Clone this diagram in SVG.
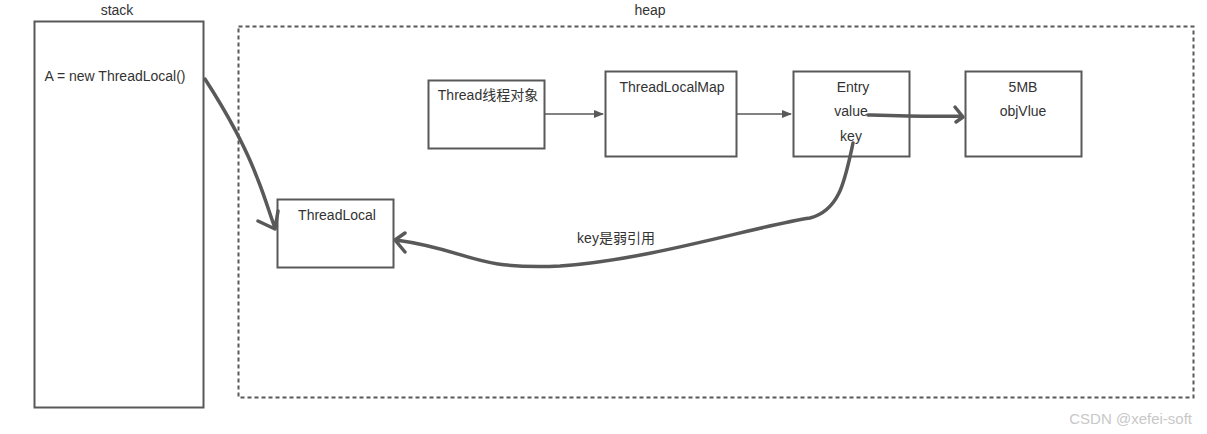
<svg xmlns="http://www.w3.org/2000/svg" width="1207" height="434" viewBox="0 0 1207 434">
<defs>
<style>
.box{fill:#fff;stroke:#595959;stroke-width:2}
.t{font-family:"Liberation Sans",Arial,"Noto Sans CJK SC",sans-serif;font-size:14px;fill:#333;text-anchor:middle}
.sk{fill:none;stroke:#595959;stroke-width:3.5;stroke-linecap:round;stroke-linejoin:round}
.ln{fill:none;stroke:#595959;stroke-width:1.5}
</style>
<marker id="a" markerWidth="10" markerHeight="8" refX="9" refY="4" orient="auto" markerUnits="userSpaceOnUse"><path d="M0,0 L10,4 L0,8 Z" fill="#595959"/></marker>
</defs>
<rect width="1207" height="434" fill="#fff"/>
<g id="stack"><rect class="box" x="34.5" y="21.5" width="169" height="386"/><text class="t" x="117" y="15">stack</text><text class="t" x="115" y="81">A = new ThreadLocal()</text></g>
<g id="heap"><rect x="238.5" y="26.5" width="955" height="371" fill="none" stroke="#595959" stroke-width="2" stroke-dasharray="4,3"/><text class="t" x="650" y="15">heap</text></g>
<g id="threadlocal"><rect class="box" x="277.5" y="199.5" width="116" height="68"/><text class="t" x="337" y="220">ThreadLocal</text></g>
<g id="thread"><rect class="box" x="428.5" y="80.5" width="116" height="68"/><text class="t" x="488" y="100">Thread线程对象</text></g>
<g id="map"><rect class="box" x="605.5" y="71.5" width="131" height="85"/><text class="t" x="672" y="92">ThreadLocalMap</text></g>
<g id="entry"><rect class="box" x="793.5" y="71.5" width="116" height="85"/><text class="t" x="853" y="92">Entry</text><text class="t" x="851" y="116">value</text><text class="t" x="851" y="141">key</text></g>
<g id="mb"><rect class="box" x="965.5" y="71.5" width="116" height="85"/><text class="t" x="1023" y="92">5MB</text><text class="t" x="1023" y="116">objVlue</text></g>
<g id="connectors">
<path class="ln" d="M545,114 L603,114" marker-end="url(#a)"/>
<path class="ln" d="M737,114 L791,114" marker-end="url(#a)"/>
<path class="sk" d="M205,79 C225,110 245,145 258,180 C266,200 270,215 275,228 M258,221 L275,229 L278,211"/>
<path class="sk" d="M868,115 C900,116 930,117 962,116 M955,107 L963,117 L956,122"/>
<path class="sk" d="M853,143 C845,180 840,210 810,218 C760,225 650,260 560,266 C470,270 470,250 396,240 M405,233 L395,240 L405,252"/>
<text class="t" x="616" y="243">key是弱引用</text>
</g>
<text x="1192" y="424" font-family="Liberation Sans,Arial,sans-serif" font-size="15" fill="#c8c8c8" text-anchor="end">CSDN @xefei-soft</text>
</svg>
